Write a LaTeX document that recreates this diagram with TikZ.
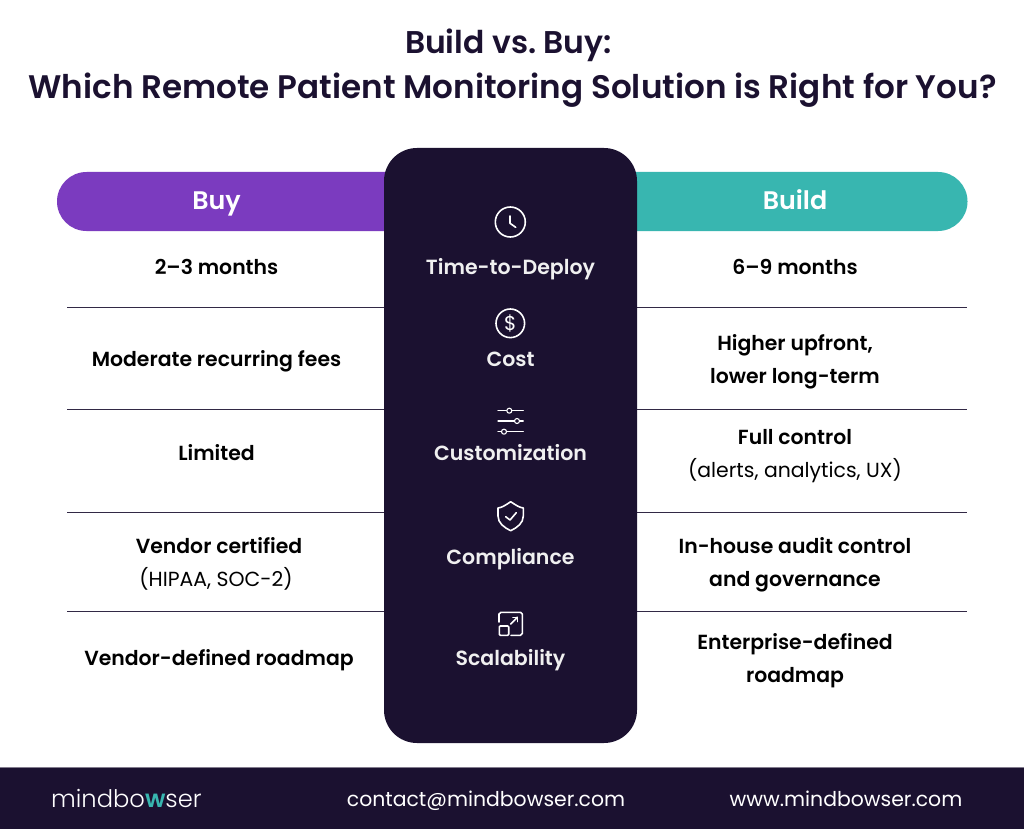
\documentclass[tikz,border=0pt]{standalone}
\usepackage{fontspec}
\setmainfont{Poppins}
\newfontfamily\popsemi{Poppins SemiBold}
\newfontfamily\poplight{Poppins Light}
\frenchspacing
\definecolor{inkdark}{HTML}{1B1130}
\definecolor{buypurple}{HTML}{7B3BBF}
\definecolor{buildteal}{HTML}{38B6B0}
\tikzset{
  titletext/.style={anchor=base,text=inkdark,font=\popsemi\fontsize{32.6}{38}\selectfont},
  headtext/.style={anchor=base,text=white,font=\popsemi\fontsize{25.4}{30}\selectfont},
  celltext/.style={anchor=base,text=black,font=\popsemi\fontsize{20.4}{24}\selectfont},
  noteText/.style={anchor=base,text=black,font=\fontsize{20.4}{24}\selectfont},
  sidetext/.style={anchor=base,text=white!94!black,font=\popsemi\fontsize{20.5}{24}\selectfont},
  foottext/.style={anchor=base,text=white,font=\fontsize{20.4}{24}\selectfont},
  icon/.style={draw=white,line width=1.6pt,line cap=round,line join=round},
}
\begin{document}
\begin{tikzpicture}[x=1pt,y=-1pt]
  \useasboundingbox (0,0) rectangle (1024,829);
  \fill[white] (0,0) rectangle (1024,829);
  % title
  \node[titletext,font=\popsemi\fontsize{31.4}{38}\selectfont] (title1) at (508.5,54) {Build vs. Buy:};
  \node[titletext] (title2) at (512.5,99) {Which Remote Patient Monitoring Solution is Right for You?};
  % header pills
  \fill[buypurple] (400,172) -- (86.5,172) arc[start angle=270,end angle=90,radius=29.5] -- (400,231) -- cycle;
  \fill[buildteal] (620,172) -- (938,172) arc[start angle=-90,end angle=90,radius=29.5] -- (620,231) -- cycle;
  \node[headtext] (buy) at (216.5,209) {Buy};
  \node[headtext] (build) at (795,209) {Build};
  % row rules
  \foreach \ry in {307.5,409.5,512.5,611.5} {
    \draw[inkdark!90!white,line width=1.4pt] (67,\ry) -- (400,\ry);
    \draw[inkdark!90!white,line width=1.4pt] (620,\ry) -- (967,\ry);
  }
  % middle panel
  \fill[inkdark,rounded corners=33pt] (384,148) rectangle (637,743);
  % buy column
  \node[celltext] (buy1) at (216.5,274) {2–3 months};
  \node[celltext] (buy2) at (216.5,366) {Moderate recurring fees};
  \node[celltext] (buy3) at (216.5,460) {Limited};
  \node[celltext] (buy4) at (219,553) {Vendor certified};
  \node[noteText] (buy4b) at (216,586) {(HIPAA, SOC-2)};
  \node[celltext] (buy5) at (219,665) {Vendor-defined roadmap};
  % build column
  \node[celltext] (build1) at (795,274) {6–9 months};
  \node[celltext] (build2) at (795,350) {Higher upfront,};
  \node[celltext] (build2b) at (795,383) {lower long-term};
  \node[celltext] (build3) at (795,444) {Full control};
  \node[noteText] (build3b) at (795,477) {(alerts, analytics, UX)};
  \node[celltext] (build4) at (795,553) {In-house audit control};
  \node[celltext] (build4b) at (795,586) {and governance};
  \node[celltext] (build5) at (795,649) {Enterprise-defined};
  \node[celltext] (build5b) at (795,682) {roadmap};
  % criteria
  \node[sidetext] (time) at (510.5,274) {Time-to-Deploy};
  \node[sidetext] (cost) at (510.5,366) {Cost};
  \node[sidetext] (custom) at (510.5,460) {Customization};
  \node[sidetext] (comply) at (510.5,564) {Compliance};
  \node[sidetext] (scale) at (510.5,665) {Scalability};
  % clock
  \draw[icon] (510.3,222) circle (15);
  \draw[icon] (510,216) -- (510,223.3) -- (515.7,227.3);
  % dollar
  \draw[icon] (510.3,323.3) circle (14.3);
  \node[anchor=center,text=white,font=\fontsize{20}{24}\selectfont] (dollar) at (510.3,323.3) {\$};
  % sliders
  \foreach \sy/\sx in {410.7/509.3,421/517,431.7/504} {
    \draw[icon,line width=1.1pt] (498,\sy) -- (523.3,\sy);
    \filldraw[icon,line width=1.1pt,fill=inkdark] (\sx,\sy) circle (2.5);
  }
  % shield
  \draw[icon] (510.7,501.7) .. controls (505,505.5) and (502,507.5) .. (498,508) -- (498,516)
     .. controls (498,523) and (504,527.5) .. (510.7,530.7)
     .. controls (517.4,527.5) and (523.3,523) .. (523.3,516) -- (523.3,508)
     .. controls (519.4,507.5) and (516.4,505.5) .. (510.7,501.7) -- cycle;
  \draw[icon] (505.7,516.7) -- (510,520) -- (516.3,512.7);
  % resize box
  \draw[icon] (499,622) -- (499,614) -- (501,612.3) -- (520.5,612.3) -- (522.3,614) -- (522.3,633.5) -- (520.5,635.3) -- (511,635.3);
  \draw[icon,rounded corners=1pt] (499.3,626) rectangle (508.7,635.3);
  \draw[icon] (510.7,624) -- (517.3,617.3);
  \draw[icon] (513,617.3) -- (517.3,617.3) -- (517.3,621.6);
  % footer
  \fill[inkdark] (0,768) rectangle (1024,829);
  \draw[inkdark!55!white,line width=1pt] (0,767.5) -- (1024,767.5);
  \node[anchor=base west,text=white,font=\poplight\fontsize{24.2}{30}\selectfont,inner sep=0pt] (logo) at (51,807) {mindbo{\popsemi\color{buildteal}w}ser};
  \node[foottext] (mail) at (486,806) {contact@mindbowser.com};
  \node[foottext] (web) at (846,806) {www.mindbowser.com};
\end{tikzpicture}
\end{document}
